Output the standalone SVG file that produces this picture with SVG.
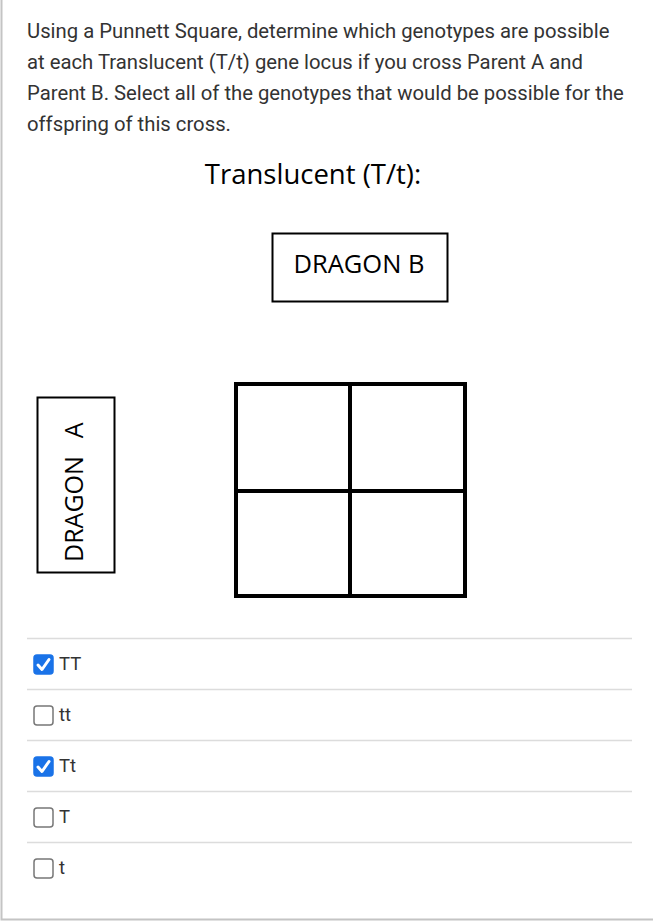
<svg xmlns="http://www.w3.org/2000/svg" width="653" height="922" viewBox="0 0 653 922">
<style>
.q{font-family:Roboto,"Liberation Sans",sans-serif;font-size:20.3px;fill:#333}
.t{font-family:"Open Sans","Noto Sans",sans-serif;fill:#000}
.sep{stroke:#dcdcdc;stroke-width:1.5}
.cb{fill:#fff;stroke:#777;stroke-width:1.5}
.cbon{fill:#1a73e8;stroke:#1a73e8;stroke-width:1.5}
.chk{fill:none;stroke:#fff;stroke-width:3;stroke-linecap:round;stroke-linejoin:round}
.lbl{font-family:Roboto,"Liberation Sans",sans-serif;font-size:18.5px;fill:#333}
</style>
<rect width="653" height="922" fill="#fff"/>
<path d="M1.5 0V919.5H653" fill="none" stroke="#c4c4c4" stroke-width="2"/>
<g id="question">
<text class="q" x="27" y="38">Using a Punnett Square, determine which genotypes are possible</text>
<text class="q" x="27" y="69">at each Translucent (T/t) gene locus if you cross Parent A and</text>
<text class="q" x="27" y="100">Parent B. Select all of the genotypes that would be possible for the</text>
<text class="q" x="27" y="131">offspring of this cross.</text>
</g>
<g id="title"><text class="t" x="313" y="184" font-size="27.5" text-anchor="middle">Translucent (T/t):</text></g>
<g id="dragonB">
<rect x="272.5" y="233.5" width="175" height="68" fill="#fff" stroke="#000" stroke-width="2"/>
<text class="t" x="359" y="273" font-size="25.5" text-anchor="middle">DRAGON B</text>
</g>
<g id="dragonA">
<rect x="37.5" y="397.5" width="77" height="175" fill="#fff" stroke="#000" stroke-width="2"/>
<text class="t" transform="translate(83 562) rotate(-90)" font-size="25">DRAGON<tspan dx="18">A</tspan></text>
</g>
<g id="punnett" fill="none" stroke="#000" stroke-width="4">
<rect x="236" y="384" width="229" height="212"/>
<line x1="350" y1="384" x2="350" y2="596"/>
<line x1="236" y1="491" x2="465" y2="491"/>
</g>
<g id="options">
<line class="sep" x1="27" y1="638.5" x2="632" y2="638.5"/>
<line class="sep" x1="27" y1="689.5" x2="632" y2="689.5"/>
<line class="sep" x1="27" y1="740.5" x2="632" y2="740.5"/>
<line class="sep" x1="27" y1="791.5" x2="632" y2="791.5"/>
<line class="sep" x1="27" y1="842.5" x2="632" y2="842.5"/>
<g id="optTT"><rect class="cbon" x="34" y="655" width="19" height="19" rx="3"/><path class="chk" d="M38 665l4 4.5 7-10"/><text class="lbl" x="59" y="670">TT</text></g>
<g id="opttt"><rect class="cb" x="34" y="706" width="19" height="19" rx="3"/><text class="lbl" x="59" y="721">tt</text></g>
<g id="optTt"><rect class="cbon" x="34" y="757" width="19" height="19" rx="3"/><path class="chk" d="M38 767l4 4.5 7-10"/><text class="lbl" x="59" y="772">Tt</text></g>
<g id="optT"><rect class="cb" x="34" y="808" width="19" height="19" rx="3"/><text class="lbl" x="59" y="823">T</text></g>
<g id="optt"><rect class="cb" x="34" y="859" width="19" height="19" rx="3"/><text class="lbl" x="59" y="874">t</text></g>
</g>
</svg>
